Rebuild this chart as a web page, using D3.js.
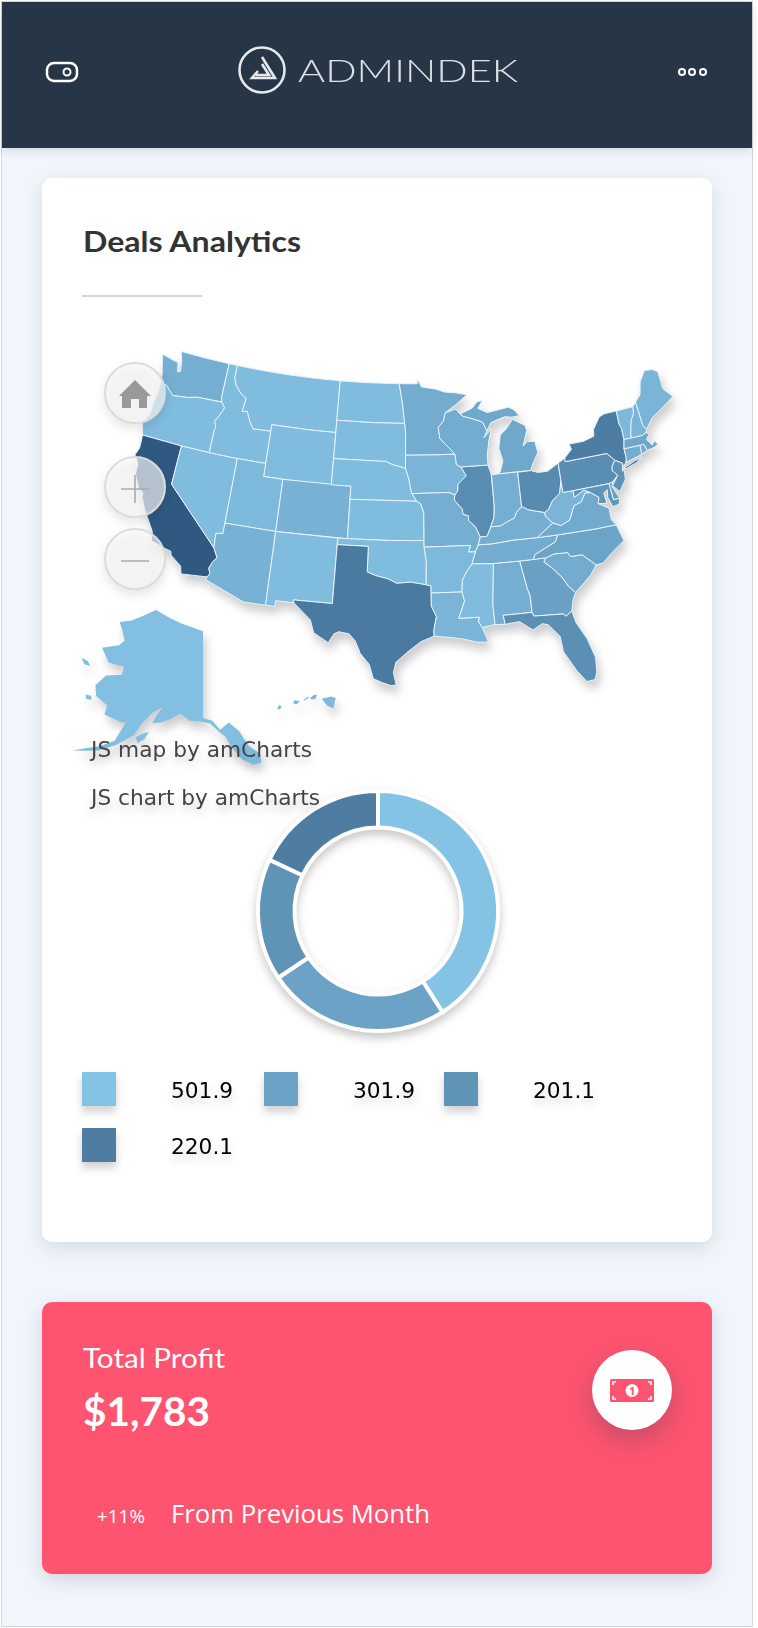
<!DOCTYPE html>
<html>
<head>
<meta charset="utf-8">
<title>Deals Analytics</title>
<script src="https://cdn.jsdelivr.net/npm/d3@7/dist/d3.min.js"></script>
<style>
    html, body { margin: 0; padding: 0; background: #fff; }
    svg { display: block; }
    .soft { filter: drop-shadow(0 6px 4px rgba(0, 0, 0, 0.18)); }
</style>
</head>
<body>
<svg id="page" width="758" height="1628"></svg>
<script>
// donut + legend
var donutValues = [501.9, 301.9, 201.1, 220.1];
var donutLabels = ['501.9', '301.9', '201.1', '220.1'];
var donutColors = ['#84c3e3', '#6ba2c5', '#5f94b7', '#4e7da1'];

// heat value per state, read from the shade of each state
var stateIds = ['WA', 'OR', 'CA', 'NV', 'ID', 'MT', 'WY', 'UT', 'CO', 'AZ', 'NM', 'ND', 'SD', 'NE', 'KS', 'OK', 'TX',
    'MN', 'IA', 'MO', 'AR', 'LA', 'MS', 'AL', 'GA', 'FL', 'SC', 'NC', 'TN', 'KY', 'IL', 'IN', 'OH', 'MI', 'MIU', 'WI',
    'WV', 'VA', 'PA', 'NY', 'LI', 'NJ', 'DE', 'MD', 'CT', 'RI', 'MA', 'VT', 'NH', 'ME'];
var stateValues = [18, 5, 100, 5, 5, 5, 5, 8, 15, 15, 5, 5, 5, 5, 5, 5, 68,
    20, 12, 18, 8, 12, 5, 18, 32, 48, 20, 28, 20, 18, 50, 18, 52, 24, 24, 20,
    12, 22, 50, 65, 65, 45, 30, 42, 20, 20, 25, 8, 12, 12];

// rough state outlines, lon/lat, same order as stateIds
var stateShapes = [
    [[-124.7,48.38],[-123.2,48.15],[-122.75,48.1],[-122.5,47.4],[-122.2,47.5],[-122.4,48.3],[-122.75,49],[-120,49],[-117.03,49],[-117.04,46.42],[-116.92,45.99],[-119,45.93],[-119.6,45.92],[-120.7,45.7],[-121.2,45.65],[-122.3,45.55],[-122.8,45.85],[-123.2,46.15],[-124,46.27],[-124.1,46.9],[-124.4,47.6]],
    [[-124,46.27],[-123.2,46.15],[-122.8,45.85],[-122.3,45.55],[-121.2,45.65],[-120.7,45.7],[-119.6,45.92],[-119,45.93],[-116.92,45.99],[-116.46,45.6],[-116.85,44.9],[-117.22,44.4],[-117.03,44.2],[-116.95,43.9],[-117.03,43.8],[-117.03,42],[-120,42],[-124.2,42],[-124.55,42.84],[-124.1,43.7],[-124.05,44.7],[-123.95,45.5]],
    [[-124.2,42],[-120,42],[-120,39],[-114.63,35],[-114.15,34.3],[-114.5,33.9],[-114.72,33.4],[-114.52,33],[-114.72,32.72],[-117.12,32.53],[-117.3,33.1],[-118.4,33.75],[-118.5,34.03],[-119.2,34.15],[-120.5,34.45],[-120.65,35.15],[-121.9,36.6],[-122.5,37.5],[-122.5,37.8],[-123,38],[-123.75,39],[-123.8,39.8],[-124.35,40.4],[-124.1,41]],
    [[-120,42],[-117.03,42],[-114.04,42],[-114.04,37],[-114.05,36.2],[-114.7,36.1],[-114.63,35],[-120,39]],
    [[-117.03,49],[-116.05,49],[-116.05,48],[-115.7,47.45],[-114.95,46.9],[-114.33,46.65],[-114.5,45.6],[-113.95,45.7],[-113.45,44.95],[-113,44.45],[-111.5,44.5],[-111.05,44.48],[-111.05,42],[-114.04,42],[-117.03,42],[-117.03,43.8],[-116.95,43.9],[-117.03,44.2],[-117.22,44.4],[-116.85,44.9],[-116.46,45.6],[-116.92,45.99],[-117.04,46.42]],
    [[-116.05,49],[-113,49],[-110,49],[-107,49],[-104.05,49],[-104.05,45],[-107,45],[-111.05,45],[-111.05,44.48],[-111.5,44.5],[-113,44.45],[-113.45,44.95],[-113.95,45.7],[-114.5,45.6],[-114.33,46.65],[-114.95,46.9],[-115.7,47.45],[-116.05,48]],
    [[-111.05,45],[-107,45],[-104.05,45],[-104.05,41],[-107,41],[-111.05,41]],
    [[-114.04,42],[-111.05,42],[-111.05,41],[-109.05,41],[-109.05,37],[-114.04,37]],
    [[-109.05,41],[-102.05,41],[-102.05,37],[-109.05,37]],
    [[-114.04,37],[-109.05,37],[-109.05,31.33],[-111.07,31.33],[-114.8,32.5],[-114.72,32.72],[-114.52,33],[-114.72,33.4],[-114.5,33.9],[-114.15,34.3],[-114.63,35],[-114.7,36.1],[-114.05,36.2]],
    [[-109.05,37],[-103,37],[-103,36.5],[-103.05,32],[-106.62,32],[-106.53,31.78],[-108.2,31.78],[-108.2,31.33],[-109.05,31.33]],
    [[-104.05,49],[-101,49],[-97.23,49],[-96.85,47.6],[-96.56,45.94],[-100,45.94],[-104.05,45.94]],
    [[-104.05,45.94],[-100,45.94],[-96.56,45.94],[-96.45,45.3],[-96.45,43.5],[-96.45,42.5],[-97.9,42.8],[-98.5,43],[-104.05,43]],
    [[-104.05,43],[-98.5,43],[-97.9,42.8],[-96.45,42.5],[-96.1,41.7],[-95.85,40.7],[-95.31,40],[-102.05,40],[-102.05,41],[-104.05,41]],
    [[-102.05,40],[-95.31,40],[-94.9,39.8],[-94.6,39.1],[-94.62,37],[-98,37],[-102.05,37]],
    [[-103,37],[-102.05,37],[-98,37],[-94.62,37],[-94.62,36.5],[-94.43,35.4],[-94.48,33.64],[-96,33.85],[-97.2,33.75],[-98.1,34.1],[-99.2,34.3],[-100,34.56],[-100,36.5],[-103,36.5]],
    [[-106.62,32],[-103.05,32],[-103,36.5],[-100,36.5],[-100,34.56],[-99.2,34.3],[-98.1,34.1],[-97.2,33.75],[-96,33.85],[-94.48,33.64],[-94.04,33.55],[-94.04,33],[-94.04,32],[-93.6,31.2],[-93.85,30.2],[-93.85,29.7],[-95,29.3],[-96.2,28.5],[-97.2,27.7],[-97.4,26.9],[-97.15,25.95],[-97.6,25.9],[-98.3,26.1],[-99.1,26.4],[-99.5,27.5],[-100.3,28.3],[-100.8,29.25],[-101.4,29.77],[-102.3,29.88],[-102.7,29.7],[-103.15,28.98],[-104.5,29.65],[-104.9,30.6],[-106.5,31.75]],
    [[-97.23,49],[-95.15,49],[-95.15,49.38],[-94.65,48.75],[-93,48.55],[-92,48.3],[-90.8,48.2],[-89.5,48],[-90.8,47.3],[-92.05,46.7],[-92.29,46.07],[-92.88,45.6],[-92.75,44.75],[-91.2,43.5],[-93,43.5],[-96.45,43.5],[-96.45,45.3],[-96.56,45.94],[-96.85,47.6]],
    [[-96.45,43.5],[-93,43.5],[-91.2,43.5],[-91.1,42.7],[-90.65,42.5],[-90.15,41.8],[-91.05,41.2],[-91.1,40.7],[-91.42,40.38],[-92,40.6],[-95.77,40.58],[-95.85,40.7],[-96.1,41.7],[-96.45,42.5]],
    [[-95.77,40.58],[-92,40.6],[-91.42,40.38],[-91.5,40],[-90.75,39.3],[-90.7,38.9],[-90.15,38.75],[-90.2,38.4],[-89.55,37.9],[-89.15,37.1],[-89.4,36.5],[-89.7,36],[-90.37,36],[-90.15,36.5],[-94.62,36.5],[-94.62,37],[-94.6,39.1],[-94.9,39.8],[-95.31,40]],
    [[-94.62,36.5],[-90.15,36.5],[-90.37,36],[-89.7,36],[-90.1,35.1],[-90.6,34.6],[-91.1,33.9],[-91.2,33],[-94.04,33],[-94.04,33.55],[-94.48,33.64],[-94.43,35.4]],
    [[-94.04,33],[-91.2,33],[-91,32.3],[-91.6,31],[-89.75,31],[-89.85,30.65],[-89.55,30.2],[-89.4,29.8],[-89.1,29.05],[-90.1,29.1],[-91.3,29.4],[-92.3,29.55],[-93.85,29.7],[-93.85,30.2],[-93.6,31.2],[-94.04,32]],
    [[-90.1,35.1],[-88.2,35],[-88.1,34.9],[-88.45,31.9],[-88.4,30.35],[-89.55,30.2],[-89.85,30.65],[-89.75,31],[-91.6,31],[-91,32.3],[-91.2,33],[-91.1,33.9],[-90.6,34.6]],
    [[-88.2,35],[-85.6,35],[-85.18,32.87],[-85,32.3],[-85,31],[-87.6,31],[-87.5,30.3],[-88.4,30.35],[-88.45,31.9],[-88.1,34.9]],
    [[-85.6,35],[-83.1,35],[-83.35,34.7],[-82.7,34.2],[-81.9,33.4],[-81.4,32.6],[-80.85,32.05],[-81.2,31.5],[-81.45,30.7],[-82.05,30.36],[-82.2,30.57],[-84.86,30.7],[-85,31],[-85,32.3],[-85.18,32.87]],
    [[-87.6,31],[-85,31],[-84.86,30.7],[-82.2,30.57],[-82.05,30.36],[-81.45,30.7],[-81.25,29.8],[-80.5,28.4],[-80.05,26.9],[-80.15,25.75],[-80.4,25.2],[-81.1,25.15],[-81.8,26.1],[-82.7,27.7],[-82.8,28.9],[-83.7,29.9],[-84.2,30.05],[-85.1,29.65],[-86.2,30.4],[-87.5,30.3]],
    [[-83.1,35],[-82.3,35.2],[-81,35.15],[-80.8,34.82],[-79.67,34.8],[-78.55,33.85],[-79.2,33.2],[-79.9,32.7],[-80.85,32.05],[-81.4,32.6],[-81.9,33.4],[-82.7,34.2],[-83.35,34.7]],
    [[-84.32,34.99],[-83.1,35],[-82.3,35.2],[-81,35.15],[-80.8,34.82],[-79.67,34.8],[-78.55,33.85],[-77.9,33.9],[-76.6,34.7],[-75.55,35.25],[-75.95,36.55],[-78,36.55],[-81.68,36.59],[-82,36.1],[-83,35.75],[-84.1,35.35]],
    [[-90.1,35.1],[-89.7,36],[-89.4,36.5],[-88.05,36.5],[-86,36.63],[-83.68,36.6],[-81.68,36.59],[-82,36.1],[-83,35.75],[-84.1,35.35],[-84.32,34.99],[-85.6,35],[-88.2,35]],
    [[-89.4,36.5],[-89.15,37.1],[-88.5,37.1],[-88.05,37.8],[-87.1,37.8],[-86.3,38.1],[-85.65,38.3],[-85.4,38.7],[-84.82,39.1],[-84.2,38.8],[-83.6,38.65],[-82.6,38.42],[-82.6,38.15],[-81.97,37.54],[-83.68,36.6],[-86,36.63],[-88.05,36.5]],
    [[-90.65,42.5],[-87.8,42.5],[-87.55,41.75],[-87.53,39.35],[-87.65,38.5],[-88.05,37.8],[-88.5,37.1],[-89.15,37.1],[-89.55,37.9],[-90.2,38.4],[-90.15,38.75],[-90.7,38.9],[-90.75,39.3],[-91.5,40],[-91.42,40.38],[-91.1,40.7],[-91.05,41.2],[-90.15,41.8]],
    [[-87.53,41.72],[-86.8,41.76],[-84.8,41.76],[-84.82,39.1],[-85.4,38.7],[-85.65,38.3],[-86.3,38.1],[-87.1,37.8],[-88.05,37.8],[-87.65,38.5],[-87.53,39.35]],
    [[-84.8,41.72],[-83.45,41.73],[-82.7,41.5],[-81.7,41.5],[-80.52,41.98],[-80.52,40.64],[-80.85,39.7],[-81.7,39.2],[-82.2,38.6],[-82.6,38.42],[-83.6,38.65],[-84.2,38.8],[-84.82,39.1]],
    [[-86.8,41.76],[-84.8,41.76],[-83.45,41.73],[-83.1,42.25],[-82.45,43],[-82.6,43.9],[-83.4,43.95],[-83.9,43.65],[-83.3,44.8],[-83.4,45.2],[-84.7,45.78],[-85.5,45.1],[-86.2,44.7],[-86.5,43.7],[-86.2,42.7],[-86.6,41.9]],
    [[-90.4,46.55],[-89,46.95],[-88.4,47.4],[-87.8,47.45],[-88.4,46.9],[-87.4,46.5],[-86,46.65],[-85,46.75],[-84.4,46.5],[-83.9,46],[-84.7,45.95],[-85.5,46.05],[-86.5,45.85],[-87.1,45.7],[-87.6,45.1],[-88,45.8],[-89,46.1],[-90.1,46.35]],
    [[-92.05,46.7],[-90.9,46.95],[-90.4,46.55],[-90.1,46.35],[-89,46.1],[-88,45.8],[-87.6,45.1],[-87.98,44.6],[-87.1,45.25],[-87.5,44.3],[-87.8,43.2],[-87.8,42.5],[-90.65,42.5],[-91.1,42.7],[-91.2,43.5],[-92.75,44.75],[-92.88,45.6],[-92.29,46.07]],
    [[-80.52,40.64],[-80.52,39.72],[-79.48,39.72],[-79.48,39.2],[-78.4,39.62],[-77.75,39.32],[-78.35,39.38],[-78.87,38.76],[-79.65,38.58],[-80.3,37.55],[-81.25,37.25],[-81.97,37.54],[-82.6,38.15],[-82.6,38.42],[-82.2,38.6],[-81.7,39.2],[-80.85,39.7]],
    [[-83.68,36.6],[-81.97,37.54],[-81.25,37.25],[-80.3,37.55],[-79.65,38.58],[-78.87,38.76],[-78.35,39.38],[-77.75,39.32],[-77.05,38.85],[-77.25,38.4],[-76.3,37.9],[-76.3,37],[-75.95,36.55],[-78,36.55],[-81.68,36.59]],
    [[-80.52,41.98],[-79.76,42.27],[-79.76,42],[-75.35,42],[-74.7,41.36],[-75.1,40.95],[-75.2,40.65],[-74.75,40.2],[-75.4,39.8],[-75.8,39.72],[-79.48,39.72],[-80.52,39.72],[-80.52,40.64]],
    [[-79.76,42],[-79.76,42.27],[-78.9,42.85],[-79.05,43.27],[-77.5,43.27],[-76.3,43.5],[-76.2,44],[-75.3,44.85],[-74.7,45],[-73.35,45],[-73.4,44],[-73.25,43.6],[-73.27,42.75],[-73.5,42.05],[-73.5,41.3],[-73.65,41],[-74,40.75],[-74,41],[-74.7,41.36],[-75.35,42]],
    [[-74.05,40.6],[-72.7,40.98],[-71.9,41.08],[-72.6,40.8],[-73.7,40.55]],
    [[-74.7,41.36],[-74,41],[-74.2,40.45],[-73.98,40.4],[-74.1,39.75],[-74.9,38.95],[-75.5,39.5],[-74.75,40.2],[-75.2,40.65],[-75.1,40.95]],
    [[-75.8,39.72],[-75.4,39.8],[-75.55,39.45],[-75.05,38.45],[-75.7,38.45]],
    [[-79.48,39.72],[-75.8,39.72],[-75.7,38.45],[-75.05,38.45],[-75.25,38.03],[-75.9,37.95],[-76.2,38.7],[-76.1,39.3],[-76.5,39.1],[-76.4,38.3],[-77.25,38.4],[-77.05,38.85],[-77.75,39.32],[-78.4,39.62],[-79.48,39.2]],
    [[-73.5,42.05],[-71.8,42.02],[-71.85,41.32],[-73.65,41],[-73.5,41.3]],
    [[-71.8,42.02],[-71.38,42.02],[-71.2,41.5],[-71.85,41.32]],
    [[-73.5,42.05],[-73.27,42.75],[-72.46,42.73],[-71.3,42.7],[-70.85,42.85],[-70.6,42.65],[-71,42.3],[-70.55,41.8],[-70.25,42.07],[-69.95,41.7],[-70.65,41.55],[-71.2,41.5],[-71.38,42.02],[-71.8,42.02]],
    [[-73.35,45],[-71.5,45],[-71.6,44.5],[-72.05,44],[-72.45,43],[-72.46,42.73],[-73.27,42.75],[-73.25,43.6],[-73.4,44]],
    [[-71.5,45],[-71.08,45.3],[-70.98,43.4],[-70.7,43.07],[-70.85,42.85],[-71.3,42.7],[-72.46,42.73],[-72.45,43],[-72.05,44],[-71.6,44.5]],
    [[-71.08,45.3],[-70.4,45.75],[-70,46.7],[-69.2,47.45],[-68.3,47.35],[-67.8,47.07],[-67.8,45.7],[-67,44.9],[-68.5,44.3],[-69.8,43.8],[-70.7,43.07],[-70.98,43.4]]
];

// Alaska and its islands, drawn in their own inset
var alaskaValue = 2;
var alaskaShapes = [
    [[-141,69.65],[-144,70],[-148,70.4],[-152,70.85],[-156.6,71.35],[-160,70.4],[-163,69.5],[-166.2,68.9],[-164.5,68.1],[-163,67.2],[-164,66.6],[-161.8,66.3],[-163.7,66.6],[-168,65.6],[-165,64.4],[-161,64.5],[-161,63.6],[-164.5,63],[-166,61.6],[-165,60.6],[-162,60],[-162,59],[-158,58.7],[-157.2,58.8],[-158.5,56.6],[-161,55.6],[-163.5,54.9],[-165.5,54.2],[-163,54.7],[-161,55.1],[-158,56.2],[-155,57.7],[-154,59],[-152,60.5],[-150,61.2],[-151,60.3],[-151.8,59.3],[-150,59.5],[-148,60],[-146,60.7],[-144,60],[-141,59.9],[-139.5,59.7],[-137.5,58.7],[-136.4,58.2],[-135.3,57],[-133.5,55.6],[-131.5,54.9],[-130,55],[-130,56],[-132,57],[-133.5,58.7],[-135.5,59.7],[-137.4,59],[-139,60],[-141,60.3]],
    [[-171.6,63.7],[-170,63.7],[-168.8,63.3],[-170.3,63.2]],
    [[-167.2,60.3],[-166,60.4],[-165.6,60],[-166.8,59.9]],
    [[-154.6,57.5],[-153.4,58],[-152.2,58.3],[-152.8,57.5],[-154,56.9]]
];

var hawaiiValue = 8;
var hawaiiShapes = [
    [[-159.75,22.1],[-159.35,22.2],[-159.35,21.9],[-159.65,21.9]],
    [[-158.25,21.55],[-157.95,21.7],[-157.65,21.3],[-158.1,21.3]],
    [[-157.3,21.2],[-156.75,21.17],[-156.75,21.05],[-157.25,21.1]],
    [[-156.7,20.95],[-156.25,20.95],[-156,20.75],[-156.4,20.58],[-156.7,20.8]],
    [[-155.9,20.25],[-155.1,19.85],[-154.85,19.5],[-155.65,18.95],[-155.95,19.5]]
];

var RED = '#fe5470';
var svg = d3.select('#page');

function shapeToFeature(ring, value) {
    var closed = ring.concat([ring[0]]);
    var geo = { type: 'Polygon', coordinates: [closed] };
    // d3-geo wants the small side of the ring as the inside
    if (d3.geoArea(geo) > 2 * Math.PI) {
        geo.coordinates = [closed.slice().reverse()];
    }
    return { type: 'Feature', properties: { value: value }, geometry: geo };
}

function addText(parent, str, x, y, size, weight, family, fill, length) {
    var t = parent.append('text')
        .attr('x', x)
        .attr('y', y)
        .attr('font-size', size)
        .attr('font-weight', weight)
        .attr('font-family', family)
        .attr('fill', fill)
        .text(str);
    if (length) {
        t.attr('textLength', length).attr('lengthAdjust', 'spacingAndGlyphs');
    }
    return t;
}

// page + cards
svg.append('rect').attr('x', 1.5).attr('y', 1.5).attr('width', 751).attr('height', 1625)
    .attr('fill', '#f0f6fc').attr('stroke', '#d3d7da');
svg.append('rect').attr('x', 2).attr('y', 2).attr('width', 750).attr('height', 146)
    .attr('fill', '#263646').style('filter', 'drop-shadow(0 3px 5px rgba(0,0,0,0.12))');
svg.append('rect').attr('x', 42).attr('y', 178).attr('width', 670).attr('height', 1064).attr('rx', 10)
    .attr('fill', '#fff').style('filter', 'drop-shadow(0 6px 10px rgba(0,0,0,0.11))');
svg.append('rect').attr('x', 42).attr('y', 1302).attr('width', 670).attr('height', 272).attr('rx', 10)
    .attr('fill', RED).style('filter', 'drop-shadow(0 6px 10px rgba(0,0,0,0.13))');

// header
var header = svg.append('g');
header.append('rect').attr('x', 47).attr('y', 63).attr('width', 30).attr('height', 18).attr('rx', 7)
    .attr('fill', 'none').attr('stroke', '#fff').attr('stroke-width', 2.5);
header.append('circle').attr('cx', 67).attr('cy', 72).attr('r', 3.5)
    .attr('fill', 'none').attr('stroke', '#fff').attr('stroke-width', 2);
[682, 692, 703].forEach(function (cx) {
    header.append('circle').attr('cx', cx).attr('cy', 72).attr('r', 3)
        .attr('fill', 'none').attr('stroke', '#fff').attr('stroke-width', 2);
});
var logo = header.append('g').style('filter', 'blur(0.5px)');
logo.append('circle').attr('cx', 262).attr('cy', 70).attr('r', 22.5)
    .attr('fill', 'none').attr('stroke', '#e6e9ec').attr('stroke-width', 2.6);
logo.append('path').attr('d', 'M262 57 L275 78 L252 78 L258 71 M262 64 L269 75 L256 75')
    .attr('fill', 'none').attr('stroke', '#e6e9ec').attr('stroke-width', 2.6);
addText(logo, 'ADMINDEK', 298, 82, 31, 300, 'Lato, sans-serif', '#dde1e5', 220);

// title
addText(svg, 'Deals Analytics', 83, 252, 28, 700, 'Lato, sans-serif', '#333', 218);
svg.append('rect').attr('x', 82).attr('y', 295).attr('width', 120).attr('height', 2).attr('fill', '#d6d6d6');

// map
var heat = d3.scaleLinear().domain([0, 100]).range(['#84c1e3', '#2f5981']);
var lower48 = stateShapes.map(function (ring, i) { return shapeToFeature(ring, stateValues[i]); });
var alaska = alaskaShapes.map(function (ring) { return shapeToFeature(ring, alaskaValue); });
var hawaii = hawaiiShapes.map(function (ring) { return shapeToFeature(ring, hawaiiValue); });

var mainProjection = d3.geoAlbers()
    .fitExtent([[135, 351], [673, 686]], { type: 'FeatureCollection', features: lower48 });
var alaskaProjection = d3.geoConicEqualArea()
    .parallels([55, 65]).rotate([141, 0]).center([0, 60.3]).scale(533).translate([203, 718]);
var hawaiiProjection = d3.geoConicEqualArea()
    .parallels([15, 25]).rotate([157, 0]).center([0, 20.5]).scale(650).angle(40).translate([311, 704]);

var mapGroup = svg.append('g').style('filter', 'drop-shadow(3px 7px 5px rgba(0,0,0,0.2))');

function drawStates(features, projection, stroke) {
    var path = d3.geoPath(projection);
    mapGroup.append('g').selectAll('path')
        .data(features)
        .enter()
        .append('path')
        .attr('d', path)
        .attr('fill', function (d) { return heat(d.properties.value); })
        .attr('stroke', stroke)
        .attr('stroke-width', 1)
        .attr('stroke-linejoin', 'round');
}
drawStates(lower48, mainProjection, '#e8f3fa');
drawStates(alaska, alaskaProjection, 'none');
drawStates(hawaii, hawaiiProjection, 'none');

// zoom controls
var controls = svg.append('g');
[393, 487, 559].forEach(function (cy) {
    controls.append('circle').attr('cx', 135).attr('cy', cy).attr('r', 30)
        .attr('fill', 'rgba(247,247,247,0.68)')
        .attr('stroke', '#dcdcdc').attr('stroke-width', 2)
        .style('filter', 'drop-shadow(0 5px 5px rgba(0,0,0,0.13))');
});
controls.append('path')
    .attr('d', 'M135 380 L151 396 L147 396 L147 408 L139 408 L139 399 L131 399 L131 408 L122 408 L122 396 L119 396 Z')
    .attr('fill', '#999');
controls.append('path').attr('d', 'M121 489 H149 M135 475 V503 M121 561 H149')
    .attr('fill', 'none').attr('stroke', '#aaa').attr('stroke-width', 1.6);

// donut
var donutGroup = svg.append('g')
    .attr('transform', 'translate(378,911)')
    .style('filter', 'drop-shadow(0 5px 5px rgba(0,0,0,0.22))');
var pie = d3.pie().sort(null).value(function (d) { return d; });
var arc = d3.arc().innerRadius(83.5).outerRadius(120);
donutGroup.selectAll('path')
    .data(pie(donutValues))
    .enter()
    .append('path')
    .attr('d', arc)
    .attr('fill', function (d, i) { return donutColors[i]; })
    .attr('stroke', '#fff')
    .attr('stroke-width', 4);

// credit texts sit on top of the map and the donut
var credits = svg.append('g').attr('class', 'soft');
addText(credits, 'JS map by amCharts', 91, 757, 21.7, 400, '"DejaVu Sans", sans-serif', '#444');
addText(credits, 'JS chart by amCharts', 91, 805, 21.7, 400, '"DejaVu Sans", sans-serif', '#444');

// legend
var legendX = [82, 264, 444, 82];
var legendTextX = [171, 353, 533, 171];
var legendY = [1072, 1072, 1072, 1128];
var legend = svg.append('g').attr('class', 'soft');
donutLabels.forEach(function (label, i) {
    legend.append('rect').attr('x', legendX[i]).attr('y', legendY[i]).attr('width', 34).attr('height', 34)
        .attr('fill', donutColors[i]);
    addText(legend, label, legendTextX[i], legendY[i] + 26, 21.7, 400, '"DejaVu Sans", sans-serif', '#000');
});

// profit card
addText(svg, 'Total Profit', 83, 1368, 26, 400, 'Lato, sans-serif', '#fff', 142);
addText(svg, '$1,783', 83, 1426, 40, 700, 'Lato, sans-serif', '#fff', 127);
addText(svg, '+11%', 97, 1523, 18, 400, '"Open Sans", sans-serif', '#fff', 48);
addText(svg, 'From Previous Month', 171, 1523, 25, 400, '"Open Sans", sans-serif', '#fff', 259);

var badge = svg.append('g');
badge.append('circle').attr('cx', 632).attr('cy', 1390).attr('r', 40).attr('fill', '#fff')
    .style('filter', 'drop-shadow(0 10px 14px rgba(70,60,90,0.32))');
badge.append('rect').attr('x', 610).attr('y', 1379).attr('width', 44).attr('height', 23).attr('rx', 1.5).attr('fill', RED);
badge.append('circle').attr('cx', 632).attr('cy', 1390.5).attr('r', 6.5).attr('fill', '#fff');
badge.append('path')
    .attr('d', 'M613 1385 V1382 H616 M648 1382 H651 V1385 M613 1396 V1399 H616 M648 1399 H651 V1396')
    .attr('fill', 'none').attr('stroke', '#fff').attr('stroke-width', 1.6);
addText(badge, '1', 629, 1394.5, 11, 700, '"Open Sans", sans-serif', RED);
</script>
</body>
</html>
